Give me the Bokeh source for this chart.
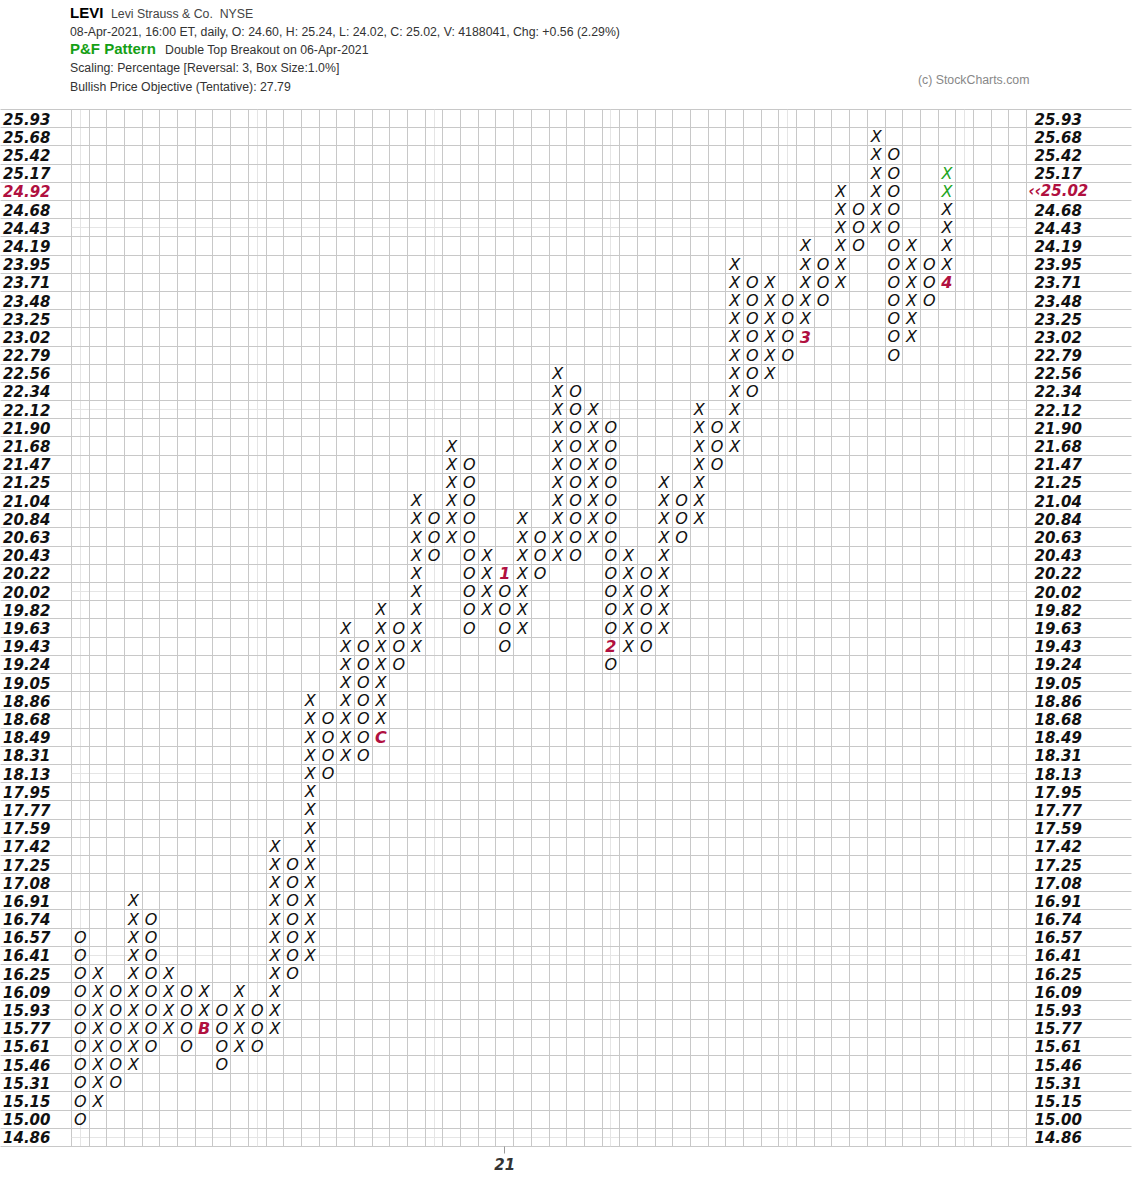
from bokeh.plotting import figure
from bokeh.layouts import column
from bokeh.models import Range1d, FixedTicker, LinearAxis, Label, ColumnDataSource, Grid, Div
from bokeh.embed import file_html
from bokeh.resources import INLINE
from bokeh.core.properties import value

# ---------------- header texts ----------------
symbol = "LEVI"
company = "Levi Strauss &amp; Co.&nbsp; NYSE"
quote_line = "08-Apr-2021, 16:00 ET, daily, O: 24.60, H: 25.24, L: 24.02, C: 25.02, V: 4188041, Chg: +0.56 (2.29%)"
pattern_label = "P&amp;F Pattern"
pattern_text = "Double Top Breakout on 06-Apr-2021"
scaling_text = "Scaling: Percentage [Reversal: 3, Box Size:1.0%]"
objective_text = "Bullish Price Objective (Tentative): 27.79"
credit_text = "(c) StockCharts.com"

# ---------------- box scale (ascending) ----------------
box_prices = [14.86, 15.00, 15.15, 15.31, 15.46, 15.61, 15.77, 15.93, 16.09, 16.25,
              16.41, 16.57, 16.74, 16.91, 17.08, 17.25, 17.42, 17.59, 17.77, 17.95,
              18.13, 18.31, 18.49, 18.68, 18.86, 19.05, 19.24, 19.43, 19.63, 19.82,
              20.02, 20.22, 20.43, 20.63, 20.84, 21.04, 21.25, 21.47, 21.68, 21.90,
              22.12, 22.34, 22.56, 22.79, 23.02, 23.25, 23.48, 23.71, 23.95, 24.19,
              24.43, 24.68, 24.92, 25.17, 25.42, 25.68, 25.93]

# ---------------- P&F columns ----------------
col_type = ["O", "X", "O", "X", "O", "X", "O", "X", "O", "X",
            "O", "X", "O", "X", "O", "X", "O", "X", "O", "X",
            "O", "X", "O", "X", "O", "X", "O", "X", "O", "X",
            "O", "X", "O", "X", "O", "X", "O", "X", "O", "X",
            "O", "X", "O", "X", "O", "X", "O", "X", "O", "X"]
col_top = [16.57, 16.25, 16.09, 16.91, 16.74, 16.25, 16.09, 16.09, 15.93, 16.09,
           15.93, 17.42, 17.25, 18.86, 18.68, 19.63, 19.43, 19.82, 19.63, 21.04,
           20.84, 21.68, 21.47, 20.43, 20.22, 20.84, 20.63, 22.56, 22.34, 22.12,
           21.90, 20.43, 20.22, 21.25, 21.04, 22.12, 21.90, 23.95, 23.71, 23.71,
           23.48, 24.19, 23.95, 24.92, 24.68, 25.68, 25.42, 24.19, 23.95, 25.17]
col_bottom = [15.00, 15.15, 15.31, 15.46, 15.61, 15.77, 15.61, 15.77, 15.46, 15.61,
              15.61, 15.77, 16.25, 16.41, 18.13, 18.31, 18.31, 18.49, 19.24, 19.43,
              20.43, 20.63, 19.63, 19.82, 19.43, 19.63, 20.22, 20.43, 20.43, 20.63,
              19.24, 19.43, 19.43, 19.63, 20.63, 20.84, 21.47, 21.68, 22.34, 22.56,
              22.79, 23.02, 23.48, 23.71, 24.19, 24.43, 22.79, 23.02, 23.48, 23.71]

# month markers (replace a box)
month_cols = [7, 17, 24, 30, 41, 49]
month_prices = [15.77, 18.49, 20.22, 19.43, 23.02, 23.71]
month_labels = ["B", "C", "1", "2", "3", "4"]

# boxes added on the latest session (green)
new_cols = [49, 49]
new_prices = [24.92, 25.17]

last_box = 24.92
last_close_label = "\u2039\u203925.02"
year_col = 24
year_label = "21"
n_grid_cols = 54

# ---------------- layout constants ----------------
HEAD_H = 100
BL, BR, BT, BB = 68, 113, 9, 50
FW, FH = 955, 1037
n_rows = len(box_prices)
COLPX = FW / n_grid_cols
FONT = "DejaVu Sans"
CRIMSON = "#b0103f"
GREEN = "#1fa51f"
GRIDC = "#c8c8c8"

level_of = {round(pr, 2): i for i, pr in enumerate(box_prices)}
month_map = {(c, round(pr, 2)): lab for c, pr, lab in zip(month_cols, month_prices, month_labels)}
new_set = {(c, round(pr, 2)) for c, pr in zip(new_cols, new_prices)}

bx, by, bt = [], [], []
gx, gy, gt = [], [], []
for c, (t, top, bot) in enumerate(zip(col_type, col_top, col_bottom)):
    for lv in range(level_of[round(bot, 2)], level_of[round(top, 2)] + 1):
        key = (c, round(box_prices[lv], 2))
        if key in month_map:
            continue
        if key in new_set:
            gx.append(c); gy.append(lv); gt.append(t)
        else:
            bx.append(c); by.append(lv); bt.append(t)

mx = month_cols
my = [level_of[round(pr, 2)] for pr in month_prices]

p = figure(frame_width=FW, frame_height=FH, output_backend="svg", toolbar_location=None,
           x_range=Range1d(-0.5, n_grid_cols - 0.5), y_range=Range1d(-0.5, n_rows - 0.5),
           min_border_left=BL, min_border_right=BR, min_border_top=BT, min_border_bottom=BB,
           x_axis_location=None, y_axis_location=None)
p.outline_line_color = GRIDC
p.background_fill_color = "white"
p.border_fill_color = "white"

row_edges = [i - 0.5 for i in range(n_rows + 1)]
p.add_layout(Grid(dimension=0, ticker=FixedTicker(ticks=[i - 0.5 for i in range(n_grid_cols + 1)]),
                  grid_line_color=GRIDC, grid_line_width=1))
p.add_layout(Grid(dimension=1, ticker=FixedTicker(ticks=row_edges),
                  grid_line_color=GRIDC, grid_line_width=1))

src_b = ColumnDataSource(dict(x=bx, y=by, t=bt))
src_g = ColumnDataSource(dict(x=gx, y=gy, t=gt))
src_m = ColumnDataSource(dict(x=mx, y=my, t=month_labels))
common = dict(text_font=value(FONT), text_font_size="16px", text_align="center", text_baseline="middle")
p.text(x="x", y="y", text="t", source=src_b, text_color="#111111", text_font_style="italic", **common)
p.text(x="x", y="y", text="t", source=src_g, text_color=GREEN, text_font_style="italic", **common)
p.text(x="x", y="y", text="t", source=src_m, text_color=CRIMSON, text_font_style="bold italic", **common)

# row lines continuing through the label columns (outer label-less axis, ticks pointing inward)
def row_line_axis(length):
    ax = LinearAxis(ticker=FixedTicker(ticks=[], minor_ticks=row_edges))
    ax.axis_line_color = None
    ax.major_tick_line_color = None
    ax.major_tick_in = 0
    ax.major_tick_out = 0
    ax.major_label_standoff = 0
    ax.minor_tick_line_color = GRIDC
    ax.minor_tick_in = length
    ax.minor_tick_out = 0
    return ax

# price axes
labels = {i: ("" if round(pr, 2) == last_box else f"{pr:.2f}") for i, pr in enumerate(box_prices)}
def price_axis(standoff):
    ax = LinearAxis(ticker=FixedTicker(ticks=list(range(n_rows)), minor_ticks=row_edges),
                    major_label_overrides=labels)
    ax.axis_line_color = None
    ax.major_tick_line_color = None
    ax.major_tick_in = 0
    ax.major_tick_out = 0
    ax.minor_tick_line_color = "#333333"
    ax.minor_tick_in = 2
    ax.minor_tick_out = 3
    ax.major_label_standoff = standoff
    ax.major_label_text_font = FONT
    ax.major_label_text_font_style = "bold italic"
    ax.major_label_text_font_size = "15px"
    ax.major_label_text_color = "#111111"
    return ax

lb = level_of[round(last_box, 2)]
left_red = Label(x=-0.5 - 21 / COLPX, y=lb, text=f"{last_box:.2f}", text_align="right",
                 text_baseline="middle", text_font=FONT, text_font_style="bold italic",
                 text_font_size="15px", text_color=CRIMSON)
right_red = Label(x=n_grid_cols - 0.5 + 2 / COLPX, y=lb, text=last_close_label, text_align="left",
                  text_baseline="middle", text_font=FONT, text_font_style="bold italic",
                  text_font_size="15px", text_color=CRIMSON)

p.add_layout(price_axis(18), "left")
p.add_layout(row_line_axis(BL + 20), "left")
p.add_layout(price_axis(5), "right")
p.add_layout(left_red, "right")          # side panel only keeps it unclipped; position is in data units
p.add_layout(row_line_axis(BR + 20), "right")

xa = LinearAxis(ticker=FixedTicker(ticks=[year_col]), major_label_overrides={year_col: year_label})
xa.axis_line_color = None
xa.major_tick_line_color = "#999999"
xa.major_tick_in = 0
xa.major_tick_out = 7
xa.minor_tick_line_color = None
xa.major_label_standoff = 4
xa.major_label_text_font = FONT
xa.major_label_text_font_style = "bold italic"
xa.major_label_text_font_size = "15px"
xa.major_label_text_color = "#333333"
p.add_layout(xa, "below")
p.add_layout(right_red, "below")

# ---------------- header ----------------
def span(left, center_y, txt, size=12.3, weight="normal", color="#333333"):
    return (f'<span style="position:absolute;left:{left}px;top:{center_y - 9}px;line-height:18px;'
            f'font-size:{size}px;font-weight:{weight};color:{color};white-space:nowrap;">{txt}</span>')

head_html = (
    '<div style="position:relative;width:1136px;height:%dpx;margin:0;padding:0;'
    'font-family:\'Liberation Sans\',Arial,sans-serif;">' % HEAD_H
    + span(70, 13, symbol, 15, "bold", "#000000")
    + span(111, 14, company, 12.3, "normal", "#444444")
    + span(70, 32, quote_line)
    + span(70, 49, pattern_label, 15, "bold", "#15a015")
    + span(165, 50, pattern_text)
    + span(70, 68, scaling_text)
    + span(70, 87, objective_text)
    + span(918, 80, credit_text, 12.3, "normal", "#888888")
    + '</div>'
)
header = Div(text=head_html, width=1136, height=HEAD_H, margin=0)

layout = column(header, p, spacing=0, margin=0)
open("out.html", "w").write(file_html(layout, INLINE))
